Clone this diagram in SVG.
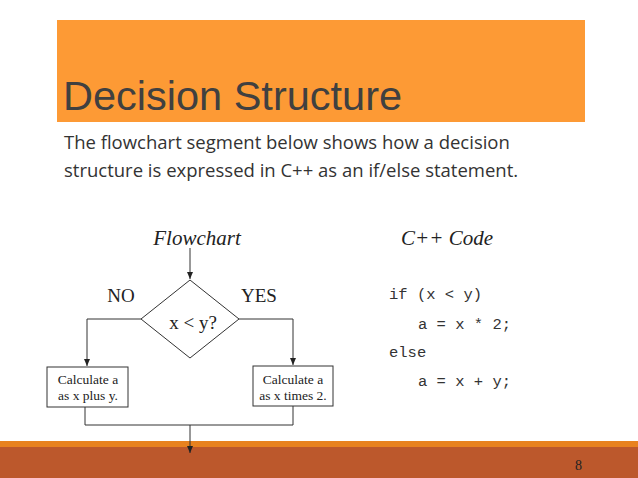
<svg xmlns="http://www.w3.org/2000/svg" width="638" height="478" viewBox="0 0 638 478">
<style>
.ln{stroke:#333;stroke-width:1;fill:none}
.tn{font-family:"Liberation Serif",serif;font-size:13.5px;fill:#222;text-anchor:middle}
.lb{font-family:"Liberation Serif",serif;font-size:19px;fill:#222;text-anchor:middle}
.cd{font-family:"Liberation Mono",monospace;font-size:15.5px;fill:#333}
</style>
<defs><marker id="ah" markerWidth="8" markerHeight="8" refX="7" refY="4" orient="auto" markerUnits="userSpaceOnUse"><path d="M0,1 L7,4 L0,7 Z" fill="#222"/></marker></defs>
<rect width="638" height="478" fill="#fff"/>
<rect x="57" y="20" width="528" height="102" fill="#fd9a35"/>
<text x="63" y="110" font-family="Liberation Sans,sans-serif" font-size="41.5" fill="#404040">Decision Structure</text>
<text font-family="Open Sans,sans-serif" font-size="18.5" fill="#333"><tspan x="64" y="149">The flowchart segment below shows how a decision</tspan><tspan x="64" y="177">structure is expressed in C++ as an if/else statement.</tspan></text>
<rect x="0" y="441" width="638" height="6" fill="#e8821f"/>
<rect x="0" y="447" width="638" height="31" fill="#bc582c"/>
<text x="575" y="470" font-family="Liberation Serif,serif" font-size="14" fill="#222">8</text>
<text x="197" y="245" class="lb" font-size="21" font-style="italic" style="font-size:21px">Flowchart</text>
<text x="447" y="245" class="lb" style="font-size:21px" font-style="italic">C++ Code</text>
<g id="connectors">
<line class="ln" x1="190" y1="248" x2="190" y2="279" marker-end="url(#ah)"/>
<polyline class="ln" points="141,319 87,319 87,366" marker-end="url(#ah)"/>
<polyline class="ln" points="239,319 293,319 293,365" marker-end="url(#ah)"/>
<polyline class="ln" points="85,407 85,425 293,425 293,406"/>
<line class="ln" x1="190" y1="425" x2="190" y2="453" marker-end="url(#ah)"/>
</g>
<g id="decision"><polygon class="ln" fill="#fff" points="190,280 239,319 190,358 141,319"/><text x="193" y="329" class="lb">x &lt; y?</text></g>
<g id="lblNo"><text x="121" y="302" class="lb">NO</text></g>
<g id="lblYes"><text x="259" y="302" class="lb">YES</text></g>
<g id="boxNo"><rect class="ln" x="47" y="367" width="81" height="40"/><text class="tn" x="88" y="384">Calculate a</text><text class="tn" x="88" y="400">as x plus y.</text></g>
<g id="boxYes"><rect class="ln" x="253" y="366" width="80" height="40"/><text class="tn" x="293" y="384">Calculate a</text><text class="tn" x="293" y="400">as x times 2.</text></g>
<g id="code">
<text class="cd" x="389" y="299">if (x &lt; y)</text>
<text class="cd" x="418" y="329">a = x * 2;</text>
<text class="cd" x="389" y="357">else</text>
<text class="cd" x="418" y="386">a = x + y;</text>
</g>
</svg>
